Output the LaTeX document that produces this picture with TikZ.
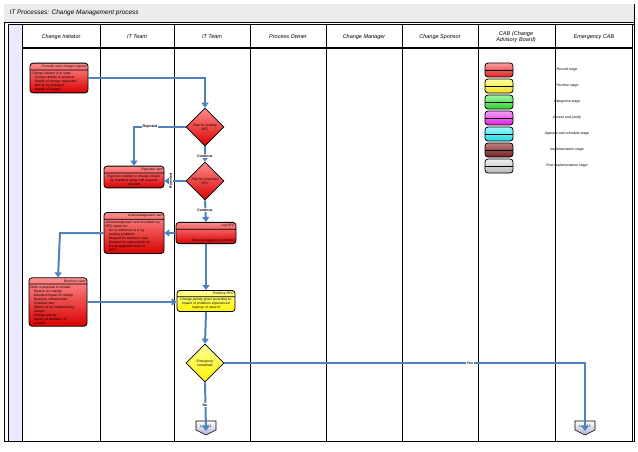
\documentclass[tikz,border=0pt]{standalone}
\usepackage{fontspec}
\setmainfont{Liberation Sans}
\usetikzlibrary{shapes.multipart,shapes.geometric,arrows.meta}
\definecolor{flow}{HTML}{4F81BD}
\newcommand{\ctr}[1]{\hspace*{\fill}#1\hspace*{\fill}}
\begin{document}
\begin{tikzpicture}[x=1pt,y=-1pt,
  lane/.style={draw=black,line width=0.8pt},
  hdr/.style={font=\fontsize{5.5}{6}\selectfont\itshape,align=center},
  rbox/.style={rectangle split,rectangle split parts=2,draw=black,line width=0.8pt,rounded corners=3pt,
     top color=red!45,bottom color=red!85!black,font=\fontsize{3.3}{4}\selectfont\itshape,text width=#1,align=left,inner sep=1.5pt},
  ybox/.style={rbox=#1,top color=yellow!40,bottom color=yellow!90!orange},
  dia/.style={diamond,draw=black,line width=0.6pt,top color=red!45,bottom color=red!85!black,minimum width=38pt,minimum height=38pt,aspect=1,inner sep=0pt,font=\fontsize{3.3}{4}\selectfont\itshape,align=center},
  arr/.style={draw=flow,line width=2pt,-{Triangle[length=5pt,width=7pt]}},
  lbl/.style={font=\fontsize{3.5}{4}\selectfont\bfseries,fill=white,inner sep=0.5pt},
  leg/.style={draw=black,line width=0.8pt,rounded corners=3pt,minimum width=28pt,minimum height=14pt},
  legt/.style={font=\fontsize{3.5}{4}\selectfont\itshape},
  off/.style={draw=black,line width=0.6pt,top color=white,bottom color=blue!25!gray!50}]
\useasboundingbox (0,0) rectangle (638,452);
\fill[white] (0,0) rectangle (638,452);
% frame
\draw[line width=0.8pt] (4,4) rectangle (634,441);
\fill[gray!15] (4,4) rectangle (634,22);
\draw[line width=0.8pt] (4,22) -- (634,22);
\node[anchor=west,font=\fontsize{6.5}{7}\selectfont\itshape] (title) at (6,13) {IT Processes: Change Management process};
\fill[blue!8] (8,24) rectangle (22,441);
\draw[lane] (8,24) -- (634,24);
\draw[lane] (8,24) -- (8,441);
\draw[line width=2pt] (22,48) -- (632,48);
\foreach \x in {22,100,174,250,326,402,478,555,632} \draw[lane] (\x,24) -- (\x,441);
\node[hdr] (h1) at (61,37) {Change Initiator};
\node[hdr] (h2) at (137,37) {IT Team};
\node[hdr] (h3) at (212,37) {IT Team};
\node[hdr] (h4) at (288,37) {Process Owner};
\node[hdr] (h5) at (364,37) {Change Manager};
\node[hdr] (h6) at (440,37) {Change Sponsor};
\node[hdr,text width=70pt] (h7) at (516,37) {CAB (Change Advisory Board)};
\node[hdr] (h8) at (594,37) {Emergency CAB};
% nodes
\node[rbox=55pt] (raise) at (59,78) {\ctr{Formally raise change request}\nodepart{second}Change Initiator is to state:\\\quad Contact details of proposer\\\quad Details of change requested\\\quad Item to be changed\\\quad Details of change\\[2pt]};
\node[dia] (d1) at (205,127) {Plan for existing\\RFC};
\node[dia] (d2) at (205,181) {Plan for a rejected\\RFC};
\node[rbox=57pt] (rej) at (134,177) {\ctr{Rejection sent}\nodepart{second}\centering Rejection notified to change initiator by helpdesk along with reasons rejected\par};
\node[rbox=57pt] (log) at (206,233) {\ctr{Log RFC}\nodepart{second}\rule{0pt}{10pt}\ctr{Request logged by helpdesk}\\[8pt]};
\node[rbox=57pt] (ack) at (134,233) {\ctr{Acknowledgement sent}\nodepart{second}Acknowledgement sent to initiator by RFC owner for:\\\quad Go or reference to a log\\\quad existing problems\\\quad Request for business case\\\quad Request for sponsorship for\\\quad the arrangement form of\\\quad RFT};
\node[rbox=55pt] (bus) at (58,302) {\ctr{Business case}\nodepart{second}Write a proposal to include:\\\quad Reason for change\\\quad Intended impact of change\\\quad Business infrastructure\\\quad Potential risks\\\quad Effects of not implementing\\\quad change\\\quad Change priority\\\quad Impact on budgets / if\\\quad a credit\\[3pt]};
\node[ybox=55pt] (pri) at (206,301) {\ctr{Prioritise RFC}\nodepart{second}\centering Change priority given according to:\\Impact of problems experienced\\Urgency of need of\par\vspace{4pt}};
\node[dia,top color=yellow!40,bottom color=yellow!90!orange] (d3) at (205,363) {Emergency\\immediate};
% off-page
\coordinate (l1) at (206,426);
\coordinate (l2) at (585,426);
\foreach \n in {l1,l2}
  \path[off] ([shift={(-10,-5)}]\n) -- ([shift={(10,-5)}]\n) -- ([shift={(10,4)}]\n) -- ([shift={(0,9)}]\n) -- ([shift={(-10,4)}]\n) -- cycle;
\node[font=\fontsize{3.5}{4}\selectfont\itshape] (l1t) at (l1) {Level 1};
\node[font=\fontsize{3.5}{4}\selectfont\itshape] (l2t) at (l2) {Level 2};
% connectors
\draw[arr] (raise.east|-0,78) -- (205,78) -- (d1.north);
\draw[arr] (d1.west) -- (134,127) -- (rej.north);
\node[lbl] (rj1) at (150,127) {Rejected};
\draw[arr] (d1.south) -- (d2.north);
\node[lbl] (c1) at (205,156) {Continue};
\draw[arr] (d2.west) -- (rej.east|-d2.west);
\node[lbl,rotate=90] (rj2) at (171,181) {Rejected};
\draw[arr] (d2.south) -- (log.north);
\node[lbl] (c2) at (205,210) {Continue};
\draw[arr] (log.west) -- (ack.east|-log.west);
\draw[arr] (ack.west) -- (60,233) -- (bus.north);
\draw[arr] (bus.east) -- (pri.west|-bus.east);
\draw[arr] (log.south) -- (pri.north);
\draw[arr] (pri.south) -- (d3.north);
\draw[arr] (d3.south) -- ([yshift=-5pt]l1);
\node[lbl] (no) at (205,405) {No};
\draw[arr] (d3.east) -- (585,363) -- ([yshift=-5pt]l2);
\node[lbl] (yes) at (470,363) {Yes};
% legend
\definecolor{c1a}{HTML}{F8A0A0}\definecolor{c1b}{HTML}{E02020}
\definecolor{c2a}{HTML}{FFFFA0}\definecolor{c2b}{HTML}{F0E020}
\definecolor{c3a}{HTML}{A0F8A0}\definecolor{c3b}{HTML}{30D030}
\definecolor{c4a}{HTML}{F8A0F8}\definecolor{c4b}{HTML}{E020E0}
\definecolor{c5a}{HTML}{A0F8F8}\definecolor{c5b}{HTML}{20D8E8}
\definecolor{c6a}{HTML}{C08080}\definecolor{c6b}{HTML}{702020}
\definecolor{c7a}{HTML}{F0F0F0}\definecolor{c7b}{HTML}{B8B8B8}
\foreach \t [count=\i] in {Record stage,Prioritise stage,Categorise stage,Assess and justify,Approve and schedule stage,Implementation stage,Post implementation stage}{
  \node[leg,top color=c\i a,bottom color=c\i b] (g\i) at (499,54+16*\i) {};
  \draw[line width=0.6pt] (g\i.west) -- (g\i.east);
  \node[legt] (gt\i) at (567,54+16*\i) {\t};
}
\end{tikzpicture}
\end{document}
